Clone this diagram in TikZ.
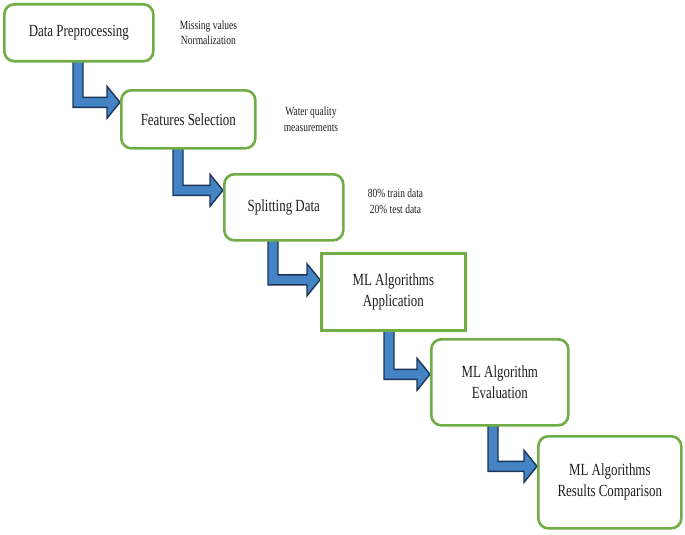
\documentclass[tikz,border=0pt]{standalone}
\usepackage{fontspec}
\setmainfont[FakeStretch=0.76]{Liberation Serif}
\usepackage{xcolor}
\usepackage{tikz}
\usetikzlibrary{positioning,calc,backgrounds}
\definecolor{tinta}{HTML}{1E1E1E}
\definecolor{verde}{HTML}{70AD47}
\definecolor{azul}{HTML}{4483C4}
\definecolor{marino}{HTML}{1C3557}
% flecha escalonada: caja origen, caja destino, desplazamiento del fuste, desplazamiento vertical
\newcommand{\escalon}[4]{%
  \draw[flecha] let \p1=($(#1.south west)+(#3,0)$), \p2=($(#2.west)+(0,#4)$) in
    (\x1-5pt,\y1+3pt) -- (\x1-5pt,\y2-5pt) -- (\x2-13pt,\y2-5pt) -- (\x2-13pt,\y2-16pt)
    -- (\x2,\y2) -- (\x2-13pt,\y2+16pt) -- (\x2-13pt,\y2+5pt) -- (\x1+5pt,\y2+5pt)
    -- (\x1+5pt,\y1+3pt) -- cycle;}

\begin{document}
\begin{tikzpicture}[x=1pt,y=-1pt,
    caja/.style={draw=verde,line width=2.6pt,rounded corners=10pt,fill=white,
                 inner sep=2pt,align=center,anchor=north west,
                 font=\fontsize{17}{21}\selectfont\color{tinta}},
    nota/.style={align=center,inner sep=0pt,
                 font=\fontsize{12.5}{15.5}\selectfont\color{tinta}},
    flecha/.style={draw=marino,fill=azul,line width=1.4pt,line join=miter}]
  \useasboundingbox (0,0) rectangle (685,535);
  \node[caja,minimum width=149pt,minimum height=57pt] (dp) at (3,3) {Data Preprocessing};
  \node[caja,minimum width=134pt,minimum height=58pt] (fs) at (120,89) {Features Selection};
  \node[caja,minimum width=119pt,minimum height=66pt] (sd) at (223,173) {Splitting Data};
  \node[caja,sharp corners,minimum width=144pt,minimum height=77pt] (ap) at (320,252)
    {ML Algorithms\\Application};
  \node[caja,minimum width=137pt,minimum height=86pt] (ev) at (430,338)
    {ML Algorithm\\Evaluation};
  \node[caja,minimum width=143pt,minimum height=92pt] (rc) at (537,435)
    {ML Algorithms\\Results Comparison};
  \node[nota,right=25pt of dp] (n1) {Missing values\\Normalization};
  \node[nota,right=27pt of fs] (n2) {Water quality\\measurements};
  \node[nota,right=23pt of sd,yshift=6pt] (n3) {80\% train data\\20\% test data};
  \begin{scope}[on background layer]
    \escalon{dp}{fs}{75}{-17}
    \escalon{fs}{sd}{58}{-17}
    \escalon{sd}{ap}{50}{-12}
    \escalon{ap}{ev}{69}{-8}
    \escalon{ev}{rc}{63}{-16}
  \end{scope}
\end{tikzpicture}
\end{document}
